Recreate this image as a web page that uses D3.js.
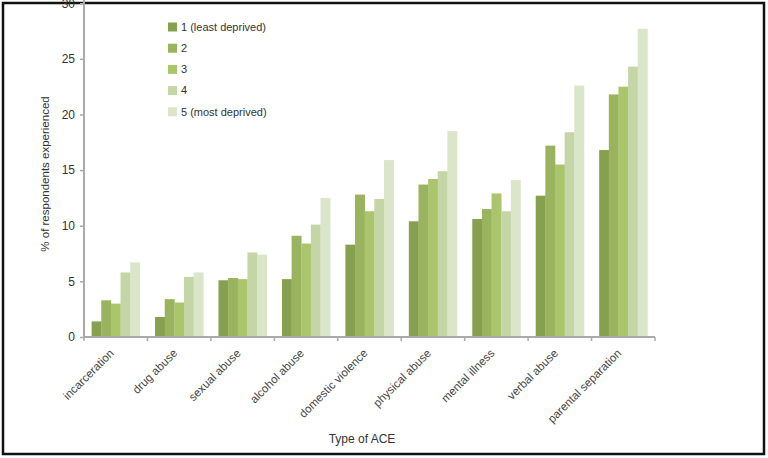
<!DOCTYPE html>
<html>
<head>
<meta charset="utf-8">
<script src="https://cdn.jsdelivr.net/npm/d3@7"></script>
<style>
  html, body { margin: 0; padding: 0; background: #fff; }
  svg { display: block; font-family: "Liberation Sans", Arial, Helvetica, sans-serif; }
</style>
</head>
<body>
<svg id="chart" width="768" height="458"></svg>
<script>
const categories = ["incarceration", "drug abuse", "sexual abuse", "alcohol abuse", "domestic violence", "physical abuse", "mental illness", "verbal abuse", "parental separation"];
const seriesNames = ["1 (least deprived)", "2", "3", "4", "5 (most deprived)"];
const q1 = [1.4, 1.8, 5.1, 5.2, 8.3, 10.4, 10.6, 12.7, 16.8];
const q2 = [3.3, 3.4, 5.3, 9.1, 12.8, 13.7, 11.5, 17.2, 21.8];
const q3 = [3.0, 3.1, 5.2, 8.4, 11.3, 14.2, 12.9, 15.5, 22.5];
const q4 = [5.8, 5.4, 7.6, 10.1, 12.4, 14.9, 11.3, 18.4, 24.3];
const q5 = [6.7, 5.8, 7.4, 12.5, 15.9, 18.5, 14.1, 22.6, 27.7];
const yTicks = [0, 5, 10, 15, 20, 25, 30];
const colors = ["#87a04f", "#9ab35e", "#abc56d", "#c5d6a6", "#dae5c9"];
const xTitle = "Type of ACE";
const yTitle = "% of respondents experienced";

const series = [q1, q2, q3, q4, q5];
const svg = d3.select("#chart");

// frame
svg.append("rect").attr("x", 3).attr("y", 3).attr("width", 761).attr("height", 451)
  .attr("fill", "none").attr("stroke", "#111").attr("stroke-width", 2.5);

const left = 84, right = 655, bottom = 337;
const x0 = d3.scaleBand().domain(categories).range([left, right]).paddingInner(0.24).paddingOuter(0.12);
const x1 = d3.scaleBand().domain(d3.range(series.length)).range([0, x0.bandwidth()]);
const y = d3.scaleLinear().domain([0, 30]).range([bottom, 3.2]);

// bars
const g = svg.append("g");
categories.forEach((c, i) => {
  series.forEach((s, j) => {
    g.append("rect")
      .attr("x", x0(c) + x1(j))
      .attr("y", y(s[i]))
      .attr("width", x1.bandwidth() + 0.3)
      .attr("height", y(0) - y(s[i]))
      .attr("fill", colors[j]);
  });
});

// y axis
const yAxis = svg.append("g").attr("transform", `translate(${left},0)`)
  .call(d3.axisLeft(y).tickValues(yTicks).tickSize(4).tickPadding(5));
yAxis.select(".domain").remove();
yAxis.selectAll(".tick line").attr("stroke", "#aaa").attr("stroke-width", 1.5);
yAxis.selectAll(".tick text").attr("fill", "#333").style("font-size", "12px");
svg.append("line").attr("x1", left).attr("x2", left).attr("y1", 0).attr("y2", bottom + 1)
  .attr("stroke", "#aaa").attr("stroke-width", 2);

// x axis
const bounds = categories.map(c => x0(c) - x0.step() * x0.paddingInner() / 2).concat([right]);
svg.append("line").attr("x1", left).attr("x2", right).attr("y1", bottom).attr("y2", bottom)
  .attr("stroke", "#aaa").attr("stroke-width", 2);
svg.selectAll(".xt").data(bounds).enter().append("line")
  .attr("x1", d => d).attr("x2", d => d).attr("y1", bottom).attr("y2", bottom + 4)
  .attr("stroke", "#aaa").attr("stroke-width", 1.5);
svg.selectAll(".xl").data(categories).enter().append("text")
  .attr("transform", d => `translate(${x0(d) + x0.bandwidth() / 2 - 4},${bottom + 14}) rotate(-45)`)
  .attr("text-anchor", "end").attr("dy", "0.35em")
  .attr("fill", "#444").style("font-size", "11.5px")
  .text(d => d);

// titles
svg.append("text").attr("x", 362).attr("y", 443).attr("text-anchor", "middle")
  .attr("fill", "#333").style("font-size", "12px").text(xTitle);
svg.append("text").attr("transform", "translate(49,174) rotate(-90)").attr("text-anchor", "middle")
  .attr("fill", "#333").style("font-size", "11.5px").text(yTitle);

// legend
const lg = svg.append("g");
seriesNames.forEach((n, j) => {
  const yy = 27 + j * 21.2;
  lg.append("rect").attr("x", 168).attr("y", yy - 4.5).attr("width", 9).attr("height", 9).attr("fill", colors[j]);
  lg.append("text").attr("x", 181).attr("y", yy).attr("dy", "0.35em")
    .attr("fill", "#333").style("font-size", "11px").text(n);
});
</script>
</body>
</html>
